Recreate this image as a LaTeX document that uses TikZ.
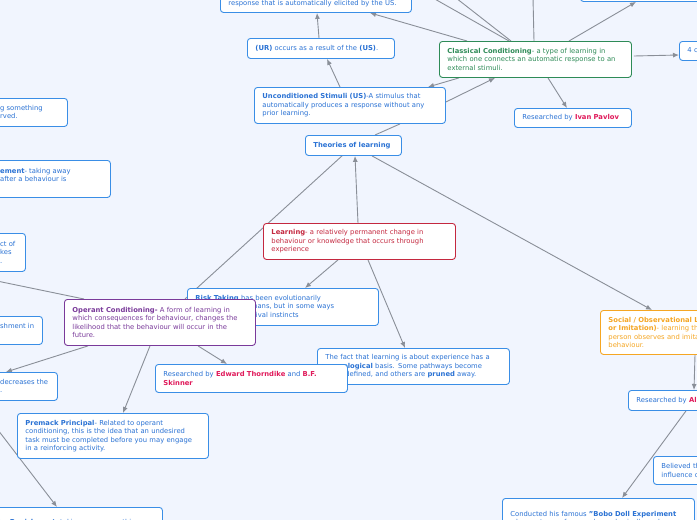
\documentclass[tikz,border=0pt]{standalone}
\usepackage{fontspec}
\setmainfont{DejaVu Sans}
\usetikzlibrary{arrows.meta,calc}
\pgfdeclarelayer{bgl}\pgfdeclarelayer{edl}
\pgfsetlayers{bgl,edl,main}
\begin{document}
\begin{tikzpicture}[x=1pt,y=-1pt,
  bx/.style={draw=bblue,fill=white,rounded corners=3pt,line width=0.9pt,text=tblue,align=left,anchor=north west,inner xsep=8pt,inner ysep=2pt,font=\fontsize{6.8}{8.5}\selectfont},
  frag/.style={anchor=west,text=tblue,inner sep=0pt,align=left,font=\fontsize{6.8}{8.5}\selectfont},
  ed/.style={draw=lgray,line width=0.9pt},
  ar/.style={ed,-{Latex[length=6pt,width=5pt]}}]
\definecolor{bg}{HTML}{F1F5FE}
\definecolor{bblue}{HTML}{3A8EE6}
\definecolor{tblue}{HTML}{2A72D4}
\definecolor{lgray}{HTML}{8A8F98}
\definecolor{cgreen}{HTML}{2E8B57}
\definecolor{cred}{HTML}{C4283F}
\definecolor{cpurple}{HTML}{7A3A9A}
\definecolor{corange}{HTML}{F5A623}
\definecolor{cpink}{HTML}{E0195A}
\useasboundingbox (0,0) rectangle (697,520);
\begin{pgfonlayer}{bgl}\fill[bg] (0,0) rectangle (697,520);\end{pgfonlayer}
% nodes
\node[bx,text width=175pt,minimum height=26pt] (ur1) at (220,-14) {\textbf{Unconditioned Response (UR)}- A\\response that is automatically elicited by the US.};
\node[bx,text width=131pt,minimum height=20pt] (ur) at (247,38) {\textbf{(UR)} occurs as a result of the \textbf{(US)}.};
\node[bx,text width=175pt,minimum height=36pt] (us) at (254,87) {\textbf{Unconditioned Stimuli (US)}-A stimulus that\\automatically produces a response without any\\prior learning.};
\node[bx,text width=80pt,minimum height=20pt] (th) at (305,135) {\textbf{Theories of learning}};
\node[bx,draw=cgreen,text=cgreen,text width=176pt,minimum height=36pt] (cc) at (439,41) {\textbf{Classical Conditioning}- a type of learning in\\which one connects an automatic response to an\\external stimuli.};
\node[bx,text width=101pt,minimum height=19pt] (pav) at (514,108) {Researched by \textcolor{cpink}{\textbf{Ivan Pavlov}}};
\node[bx,text width=60pt,minimum height=19pt] (four) at (679,41) {4 components};
\node[bx,text width=134pt,minimum height=21pt] (tr) at (580,-20) {};
\node[bx,text width=121pt,minimum height=28pt] (b9) at (-70,98) {};
\node[frag] (t9) at (0,112) {g something\\rved.};
\node[bx,text width=174pt,minimum height=37pt] (b10) at (-80,160) {};
\node[frag] (t10) at (0,175) {\textbf{ement}- taking away\\after a behaviour is};
\node[bx,text width=129pt,minimum height=38pt] (b11) at (-120,233) {};
\node[frag] (t11) at (0,252) {ct of\\kes\\.};
\node[bx,draw=cred,text=cred,text width=176pt,minimum height=36pt] (lrn) at (263,223) {\textbf{Learning}- a relatively permanent change in\\behaviour or knowledge that occurs through\\experience};
\node[bx,text width=126pt,minimum height=28pt] (b15) at (-100,316) {};
\node[frag] (t15) at (0,326) {shment in};
\node[bx,text width=141pt,minimum height=28pt] (b16) at (-100,372) {};
\node[frag] (t16) at (0,386) {decreases the\\.};
\node[bx,text width=175pt,minimum height=37pt] (risk) at (187,288) {\textbf{Risk Taking} has been evolutionarily\\beneficial for humans, but in some ways\\goes against survival instincts};
\node[bx,text width=176pt,minimum height=36pt] (fact) at (317,348) {The fact that learning is about experience has a\\\textbf{neurological} basis. Some pathways become\\more defined, and others are \textbf{pruned} away.};
\node[bx,draw=cpurple,text=cpurple,text width=175pt,minimum height=46pt] (op) at (64,299) {\textbf{Operant Conditioning-} A form of learning in\\which consequences for behaviour, changes the\\likelihood that the behaviour will occur in the\\future.};
\node[bx,text width=176pt,minimum height=28pt] (thd) at (155,364) {Researched by \textcolor{cpink}{\textbf{Edward Thorndike}} and \textcolor{cpink}{\textbf{B.F.}}\\\textcolor{cpink}{\textbf{Skinner}}};
\node[bx,text width=175pt,minimum height=45pt] (pre) at (17,413) {\textbf{Premack Principal}- Related to operant\\conditioning, this is the idea that an undesired\\task must be completed before you may engage\\in a reinforcing activity.};
\node[bx,text width=179pt,minimum height=30pt] (neg) at (-33,507) {\textbf{NegativePunishment}- taking away something\\};
\node[bx,draw=corange,text=corange,text width=174pt,minimum height=44pt] (soc) at (600,310) {\textbf{Social / Observational Learning (Modeling}\\\textbf{or Imitation)}- learning that occurs when a\\person observes and imitates another's\\behaviour.};
\node[bx,text width=134pt,minimum height=20pt] (ral) at (628,390) {Researched by \textcolor{cpink}{\textbf{Albert Bandura}}};
\node[bx,text width=134pt,minimum height=28pt] (bel) at (653,456) {Believed that the environment can\\influence our behaviour};
\node[bx,text width=176pt,minimum height=40pt] (bobo) at (502,498) {Conducted his famous \textbf{"Bobo Doll Experiment}\\where a team of researchers physically and};
\coordinate (c1) at (433,-2);
\coordinate (c2) at (456,-2);
\coordinate (c3) at (533,-2);
\coordinate (c4) at (-2,430);
% edges
\begin{pgfonlayer}{edl}
\draw[ar] ($(ur.north west)+(72,0)$) -- ($(ur1.south west)+(97,0)$);
\draw[ar] ($(us.north west)+(86,0)$) -- ($(ur.south west)+(80,0)$);
\draw[ar] ($(cc.north west)+(28,0)$) -- ($(ur1.south west)+(150,0)$);
\draw[ar] ($(cc.south west)+(20,0)$) -- ($(us.north west)+(174,0)$);
\draw[ar] ($(us.north east)+(0,15)$) -- ($(cc.south west)+(56,0)$);
\draw[ed] ($(cc.north west)+(70,0)$) -- (c1);
\draw[ed] ($(cc.north west)+(72,0)$) -- (c2);
\draw[ed] ($(cc.north west)+(95,0)$) -- (c3);
\draw[ar] ($(cc.north west)+(130,0)$) -- ($(tr.south west)+(56,0)$);
\draw[ar] ($(cc.north east)+(2,15)$) -- ($(four.north west)+(0,14)$);
\draw[ar] ($(cc.south west)+(109,0)$) -- ($(pav.north west)+(53,0)$);
\draw[ed] ($(th.north west)+(70,0)$) -- ($(us.south west)+(146,0)$);
\draw[ar] ($(lrn.north west)+(95,0)$) -- ($(th.south west)+(50,0)$);
\draw[ar] ($(th.south west)+(67,0)$) -- ($(soc.north west)+(52,0)$);
\draw[ed] ($(th.south west)+(37,0)$) -- ($(op.north west)+(121,0)$);
\draw[ar] ($(lrn.south west)+(75,0)$) -- ($(risk.north west)+(118,0)$);
\draw[ar] ($(lrn.south west)+(105,0)$) -- ($(fact.north west)+(88,0)$);
\draw[ed] (b11.south) -- ($(op.north west)+(20,0)$);
\draw[ar] ($(op.south west)+(24,0)$) -- ($(b16.north east)+(-52,0)$);
\draw[ar] ($(op.south west)+(86,0)$) -- ($(pre.north west)+(106,0)$);
\draw[ar] ($(op.south west)+(134,0)$) -- ($(thd.north west)+(72,0)$);
\draw[ar] (c4) -- ($(neg.north west)+(90,0)$);
\draw[ar] ($(soc.south west)+(95,0)$) -- ($(ral.north west)+(66,0)$);
\draw[ar] ($(ral.south west)+(58,0)$) -- ($(bobo.north west)+(120,0)$);
\end{pgfonlayer}
\end{tikzpicture}
\end{document}
